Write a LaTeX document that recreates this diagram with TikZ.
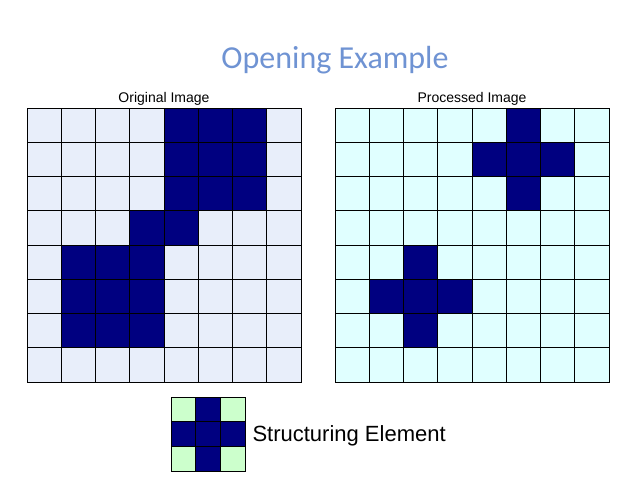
\documentclass[tikz,border=0pt]{standalone}
\usepackage{fontspec}
\setmainfont{Liberation Sans}
\newfontfamily\titlefont{Carlito}
\definecolor{lightL}{HTML}{E8EEFA}
\definecolor{lightR}{HTML}{E0FFFF}
\definecolor{darkc}{HTML}{000080}
\definecolor{seg}{HTML}{CCFFCC}
\definecolor{titleblue}{HTML}{6F93D3}
\begin{document}
\begin{tikzpicture}[x=1pt,y=-1pt,
  cellbox/.style={draw=black,line width=0.7pt}]
\useasboundingbox (0,0) rectangle (638,478);
\def\cs{34.25}
% left grid
\foreach \r in {0,...,7}{\foreach \c in {0,...,7}{
  \fill[lightL] (27+\c*\cs,108+\r*\cs) rectangle ++(\cs,\cs);}}
\foreach \r/\c in {0/4,0/5,0/6,1/4,1/5,1/6,2/4,2/5,2/6,3/3,3/4,4/1,4/2,4/3,5/1,5/2,5/3,6/1,6/2,6/3}{
  \fill[darkc] (27+\c*\cs,108+\r*\cs) rectangle ++(\cs,\cs);}
\foreach \r in {0,...,7}{\foreach \c in {0,...,7}{
  \draw[cellbox] (27+\c*\cs,108+\r*\cs) rectangle ++(\cs,\cs);}}
% right grid
\foreach \r in {0,...,7}{\foreach \c in {0,...,7}{
  \fill[lightR] (335+\c*\cs,108+\r*\cs) rectangle ++(\cs,\cs);}}
\foreach \r/\c in {0/5,1/4,1/5,1/6,2/5,4/2,5/1,5/2,5/3,6/2}{
  \fill[darkc] (335+\c*\cs,108+\r*\cs) rectangle ++(\cs,\cs);}
\foreach \r in {0,...,7}{\foreach \c in {0,...,7}{
  \draw[cellbox] (335+\c*\cs,108+\r*\cs) rectangle ++(\cs,\cs);}}
% structuring element
\def\ss{24.7}
\foreach \r in {0,1,2}{\foreach \c in {0,1,2}{
  \fill[seg] (171+\c*\ss,397+\r*\ss) rectangle ++(\ss,\ss);}}
\foreach \r/\c in {0/1,1/0,1/1,1/2,2/1}{
  \fill[darkc] (171+\c*\ss,397+\r*\ss) rectangle ++(\ss,\ss);}
\foreach \r in {0,1,2}{\foreach \c in {0,1,2}{
  \draw[cellbox] (171+\c*\ss,397+\r*\ss) rectangle ++(\ss,\ss);}}
% texts
\node (title) at (335,60) {\titlefont\fontsize{32}{36}\selectfont\color{titleblue}Opening Example};
\node (lbl1) at (164,99) {\fontsize{14}{16}\selectfont Original Image};
\node (lbl2) at (472,99) {\fontsize{14}{16}\selectfont Processed Image};
\node[anchor=west] (lbl3) at (249,436) {\fontsize{22}{26}\selectfont Structuring Element};
\end{tikzpicture}
\end{document}
